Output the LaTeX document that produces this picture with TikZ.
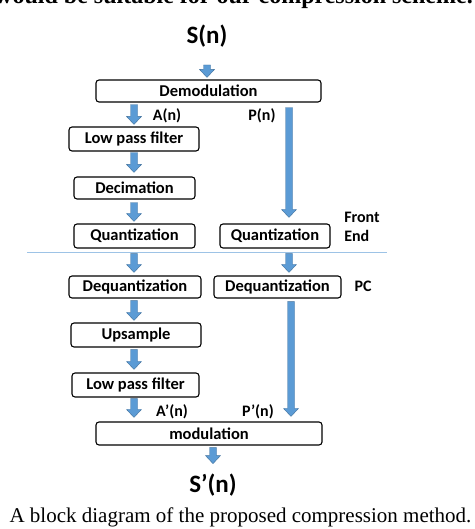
\documentclass[tikz,border=0pt]{standalone}
\usepackage{fontspec}
\setmainfont{Carlito}
\newfontfamily\capserif{Liberation Serif}
\usetikzlibrary{calc}
\definecolor{arrowblue}{HTML}{5B9BD5}
\definecolor{arrowdark}{HTML}{41719C}
\definecolor{sepline}{HTML}{9DC3E6}
\tikzset{
  box/.style={draw=black, line width=1.1pt, rounded corners=3pt, inner sep=0pt, font=\bfseries\fontsize{16.5}{17}\selectfont},
  lbl/.style={font=\bfseries\fontsize{16}{17}\selectfont, inner sep=0pt},
  sig/.style={font=\bfseries\fontsize{25}{26}\selectfont, inner sep=0pt},
  barrowstyle/.style={fill=arrowblue, draw=arrowdark, line width=0.4pt}
}
% vertical block arrow from #1 down to #2 (x taken from #1)
\newcommand\blockarrow[2]{%
  \path let \p1=(#1), \p2=(#2) in [barrowstyle]
    (\x1-3.5pt,\y1) -- (\x1+3.5pt,\y1) -- (\x1+3.5pt,\y2+8pt) -- (\x1+7.5pt,\y2+8pt)
    -- (\x1,\y2) -- (\x1-7.5pt,\y2+8pt) -- (\x1-3.5pt,\y2+8pt) -- cycle;}
\begin{document}
\begin{tikzpicture}[x=1pt,y=-1pt]
\useasboundingbox (0,0) rectangle (474,529);
\begin{scope}
\clip (0,0) rectangle (474,529);
\node[anchor=base east, inner sep=0pt, font=\capserif\bfseries\fontsize{24}{26}\selectfont] (top) at (473,4) {would be suitable for our compression scheme.};
\end{scope}
\coordinate (colL) at (134,0);
\coordinate (colR) at (289,0);
\coordinate (colR2) at (291,0);
\coordinate (sTop) at (207,65);
\node[sig] (s) at (207,36) {S(n)};
\node[box, minimum width=225pt, minimum height=22pt] (demod) at (208.5,91) {Demodulation};
\node[box, minimum width=130pt, minimum height=24pt] (lpf1) at (134,139) {Low pass filter};
\node[box, minimum width=121pt, minimum height=22pt] (dec) at (134.5,188) {Decimation};
\node[box, minimum width=121pt, minimum height=24pt] (qL) at (134.5,236) {Quantization};
\node[box, minimum width=110pt, minimum height=24pt] (qR) at (275,236) {Quantization};
\node[box, minimum width=132pt, minimum height=22pt] (dqL) at (135,287) {Dequantization};
\node[box, minimum width=127pt, minimum height=22pt] (dqR) at (277.5,287) {Dequantization};
\node[box, minimum width=130pt, minimum height=24pt] (up) at (136,335) {Upsample};
\node[box, minimum width=127pt, minimum height=24pt] (lpf2) at (135.5,385) {Low pass filter};
\node[box, minimum width=226pt, minimum height=23pt] (mod) at (209,433.5) {modulation};
\node[sig] (so) at (213,485) {S’(n)};
\node[lbl] (an) at (167,116) {A(n)};
\node[lbl] (pn) at (262,116) {P(n)};
\node[lbl] (apn) at (172,412) {A’(n)};
\node[lbl] (ppn) at (258,412) {P’(n)};
\node[lbl, align=left] (fe) at (362,227) {Front\\[2pt]End};
\node[lbl] (pc) at (363,286) {PC};
\node[anchor=base, inner sep=0pt, font=\capserif\fontsize{21}{22}\selectfont] (cap) at (240.5,522) {A block diagram of the proposed compression method.};
\coordinate (lineL) at (27,252);
\coordinate (lineR) at (387,252);
\draw[sepline, line width=0.8pt] (lineL) -- (lineR);
% arrows (canvas shifts: negative yshift = downwards)
\blockarrow{s.south |- sTop}{[yshift=2pt]demod.north -| s.south}
\blockarrow{[yshift=-2pt]demod.south -| colL}{[yshift=2pt]lpf1.north -| colL}
\blockarrow{[yshift=-1pt]lpf1.south -| colL}{[yshift=4pt]dec.north -| colL}
\blockarrow{[yshift=-3pt]dec.south -| colL}{[yshift=2pt]qL.north -| colL}
\blockarrow{[yshift=-5pt]qL.south -| colL}{[yshift=3pt]dqL.north -| colL}
\blockarrow{[yshift=-2pt]dqL.south -| colL}{[yshift=2pt]up.north -| colL}
\blockarrow{[yshift=-2pt]up.south -| colL}{[yshift=3pt]lpf2.north -| colL}
\blockarrow{[yshift=-1pt]lpf2.south -| colL}{[yshift=4pt]mod.north -| colL}
\blockarrow{[yshift=-5pt]demod.south -| colR}{[yshift=6pt]qR.north -| colR}
\blockarrow{[yshift=-5pt]qR.south -| colR}{[yshift=3pt]dqR.north -| colR}
\blockarrow{[yshift=-3pt]dqR.south -| colR2}{[yshift=5pt]mod.north -| colR2}
\blockarrow{[yshift=-2pt]mod.south -| so}{[yshift=10pt]so.north}
\end{tikzpicture}
\end{document}
